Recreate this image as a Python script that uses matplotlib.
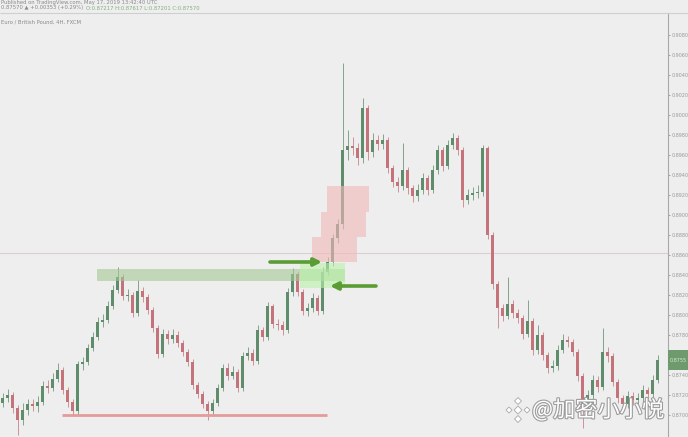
import matplotlib
matplotlib.use("Agg")
import matplotlib.pyplot as plt
import matplotlib.patheffects as pe
from matplotlib.patches import Rectangle, Polygon

# precios en pips (x 1/10000), velas de 4H
first_open = 8712
closes = [8717, 8720, 8707, 8695, 8705, 8711, 8709, 8713, 8729, 8727,
          8736, 8745, 8725, 8713, 8704, 8751, 8753, 8767, 8778, 8793,
          8795, 8809, 8825, 8838, 8819, 8820, 8802, 8824, 8818, 8805,
          8787, 8761, 8781, 8776, 8780, 8772, 8763, 8753, 8730, 8721,
          8711, 8704, 8712, 8727, 8747, 8739, 8743, 8727, 8759, 8762,
          8754, 8785, 8778, 8809, 8791, 8790, 8785, 8823, 8841, 8823,
          8804, 8807, 8817, 8804, 8843, 8853, 8877, 8891, 8965, 8969,
          8967, 8957, 9007, 8963, 8975, 8971, 8975, 8947, 8933, 8929,
          8945, 8927, 8919, 8925, 8937, 8925, 8945, 8965, 8949, 8970,
          8977, 8965, 8915, 8920, 8922, 8923, 8967, 8880, 8831, 8807,
          8799, 8811, 8802, 8797, 8781, 8794, 8765, 8780, 8760, 8747,
          8749, 8765, 8775, 8773, 8763, 8739, 8707, 8720, 8735, 8728,
          8763, 8759, 8733, 8717, 8711, 8719, 8715, 8717, 8725, 8721,
          8735, 8755]
highs = [8722, 8726, 8723, 8710, 8712, 8716, 8716, 8719, 8734, 8735,
         8742, 8752, 8748, 8728, 8716, 8754, 8758, 8771, 8783, 8798,
         8801, 8814, 8830, 8848, 8841, 8826, 8823, 8835, 8828, 8821,
         8808, 8790, 8786, 8785, 8786, 8784, 8775, 8766, 8756, 8733,
         8724, 8714, 8716, 8731, 8751, 8752, 8749, 8746, 8763, 8768,
         8766, 8790, 8788, 8813, 8811, 8796, 8794, 8827, 8847, 8843,
         8826, 8812, 8822, 8820, 8848, 8858, 8881, 8896, 9052, 8985,
         8978, 8972, 9017, 9010, 8982, 8980, 8981, 8978, 8950, 8938,
         8972, 8948, 8930, 8931, 8942, 8940, 8950, 8970, 8968, 8975,
         8982, 8980, 8968, 8926, 8928, 8930, 8970, 8969, 8883, 8834,
         8811, 8838, 8815, 8806, 8800, 8815, 8797, 8790, 8783, 8763,
         8755, 8770, 8781, 8779, 8776, 8766, 8742, 8725, 8740, 8739,
         8787, 8768, 8762, 8736, 8720, 8724, 8723, 8722, 8730, 8728,
         8740, 8760]
lows = [8708, 8713, 8702, 8680, 8690, 8700, 8704, 8703, 8710, 8722,
        8724, 8733, 8721, 8708, 8699, 8701, 8745, 8750, 8764, 8775,
        8788, 8792, 8806, 8822, 8815, 8814, 8798, 8799, 8813, 8801,
        8783, 8757, 8758, 8771, 8772, 8768, 8759, 8749, 8726, 8717,
        8707, 8695, 8700, 8709, 8724, 8735, 8736, 8723, 8724, 8755,
        8750, 8751, 8774, 8775, 8787, 8785, 8780, 8782, 8819, 8819,
        8800, 8799, 8803, 8800, 8801, 8840, 8849, 8872, 8886, 8955,
        8960, 8950, 8952, 8955, 8958, 8965, 8966, 8942, 8928, 8923,
        8925, 8921, 8913, 8914, 8921, 8920, 8922, 8941, 8944, 8946,
        8966, 8960, 8908, 8911, 8915, 8917, 8919, 8876, 8826, 8787,
        8794, 8796, 8797, 8792, 8776, 8778, 8760, 8761, 8755, 8742,
        8743, 8745, 8762, 8768, 8759, 8734, 8687, 8703, 8716, 8723,
        8725, 8753, 8729, 8712, 8706, 8707, 8710, 8711, 8713, 8716,
        8718, 8732]

# zonas dibujadas a mano: (vela inicio, vela fin, precio bajo, precio alto)
green_band = (18.9, 68.5, 8834, 8846)
green_box = (59.5, 68.5, 8827, 8852)
red_boxes = [(64.9, 73.3, 8903, 8929),
             (63.7, 72.7, 8878, 8903),
             (61.9, 70.9, 8853, 8878)]
support_line = (11.9, 64.9, 8700)
arrow_right = (53.5, 63.9, 8853)
arrow_left = (74.7, 65.5, 8829)
crosshair_price = 8862
price_ticks = [8700, 8720, 8740, 8760, 8780, 8800, 8820, 8840, 8860, 8880,
               8900, 8920, 8940, 8960, 8980, 9000, 9020, 9040, 9060, 9080]

opens = [first_open] + closes[:-1]
pip = 10000.0

bg = "#eeeeee"
up_col = "#5f8c6b"
down_col = "#c4737b"

fig = plt.figure(figsize=(6.88, 4.37), dpi=100, facecolor=bg)
ax = fig.add_axes([0, 0, 668 / 688, 424 / 437], facecolor=bg)

for i in range(len(closes)):
    o, c = opens[i] / pip, closes[i] / pip
    col = up_col if closes[i] >= opens[i] else down_col
    ax.vlines(i, lows[i] / pip, highs[i] / pip, color=col, lw=0.7, alpha=0.75, zorder=2)
    h = max(abs(c - o), 0.00012)
    ax.bar(i, h, bottom=min(o, c), width=0.5, color=col, edgecolor="none", zorder=3)

# linea de precio (cursor)
ax.axhline(crosshair_price / pip, color="#dccfcf", lw=0.8, zorder=1)

# zonas
x0, x1, lo, hi = green_band
ax.add_patch(Rectangle((x0, lo / pip), x1 - x0, (hi - lo) / pip,
                       facecolor="#a3c995", alpha=0.6, edgecolor="none", zorder=4))
x0, x1, lo, hi = green_box
ax.add_patch(Rectangle((x0, lo / pip), x1 - x0, (hi - lo) / pip,
                       facecolor="#b9f2a8", alpha=0.6, edgecolor="none", zorder=4))
for x0, x1, lo, hi in red_boxes:
    ax.add_patch(Rectangle((x0, lo / pip), x1 - x0, (hi - lo) / pip,
                           facecolor="#f3b8b8", alpha=0.6, edgecolor="none", zorder=4))

x0, x1, lv = support_line
ax.hlines(lv / pip, x0, x1, color="#e39b9b", lw=2, zorder=4)

for a0, a1, pv in [arrow_right, arrow_left]:
    ax.annotate("", xy=(a1, pv / pip), xytext=(a0, pv / pip),
                arrowprops=dict(arrowstyle="-|>", color="#5c9c34", lw=2.6,
                                mutation_scale=11, shrinkA=0, shrinkB=0),
                zorder=5)

ax.set_xlim(-0.5, 133.1)
ax.set_ylim(8678 / pip, 9102 / pip)

# eje de precios a la derecha
for s in ["left", "top", "bottom"]:
    ax.spines[s].set_visible(False)
ax.spines["right"].set_color("#a8a8a8")
ax.spines["right"].set_linewidth(0.8)
ax.set_xticks([])
ax.yaxis.tick_right()
ax.set_yticks([t / pip for t in price_ticks])
ax.set_yticklabels(["%.4f" % (t / pip) for t in price_ticks])
ax.tick_params(axis="y", colors="#9a9a9a", labelsize=3.5, length=1.5, width=0.6, pad=0.8)

# etiqueta del ultimo precio
last = closes[-1] / pip
ax.add_patch(Rectangle((1.0, last - 0.0010), 0.03, 0.0020, transform=ax.get_yaxis_transform(),
                       facecolor="#6e9a6e", edgecolor="none", clip_on=False, zorder=6))
ax.text(1.015, last, "%.4f" % last, transform=ax.get_yaxis_transform(),
        ha="center", va="center", fontsize=3.5, color="#d8ecd8", clip_on=False, zorder=7)

# capa para encabezado y marca de agua
ov = fig.add_axes([0, 0, 1, 1], facecolor="none")
ov.set_xlim(0, 688)
ov.set_ylim(437, 0)
ov.axis("off")

ov.hlines(13, 0, 688, color="#cfcfcf", lw=0.8)
ov.text(1, 2.5, "Published on TradingView.com, May 17, 2019 13:42:40 UTC",
        ha="left", va="center", fontsize=3.8, color="#8a8a8a")
ov.text(1, 8, "0.87570 \u25b2 +0.00353 (+0.29%)",
        ha="left", va="center", fontsize=3.8, color="#8a8a8a")
ov.text(86, 8, "O:0.87217 H:0.87617 L:0.87201 C:0.87570",
        ha="left", va="center", fontsize=3.8, color="#7fb07f")
ov.text(1, 22, "Euro / British Pound, 4H, FXCM",
        ha="left", va="center", fontsize=3.8, color="#8a8a8a")

# logo
cx, cy = 518, 410
for dx, dy, r in [(0, 0, 4), (-9, 0, 3), (9, 0, 3), (0, -9, 3.5), (0, 9, 3.5)]:
    pts = [(cx + dx, cy + dy - r), (cx + dx + r, cy + dy), (cx + dx, cy + dy + r), (cx + dx - r, cy + dy)]
    p = Polygon(pts, closed=True, facecolor="white", edgecolor="#a8a8a8", lw=0.6)
    ov.add_patch(p)

ov.text(532, 410, "@加密小小悦", ha="left", va="center", fontsize=16, color="white",
        family=["Noto Sans CJK SC", "DejaVu Sans"],
        path_effects=[pe.withStroke(linewidth=1.6, foreground="#9c9c9c")])

fig.savefig("out.png", dpi=100, facecolor=bg)
